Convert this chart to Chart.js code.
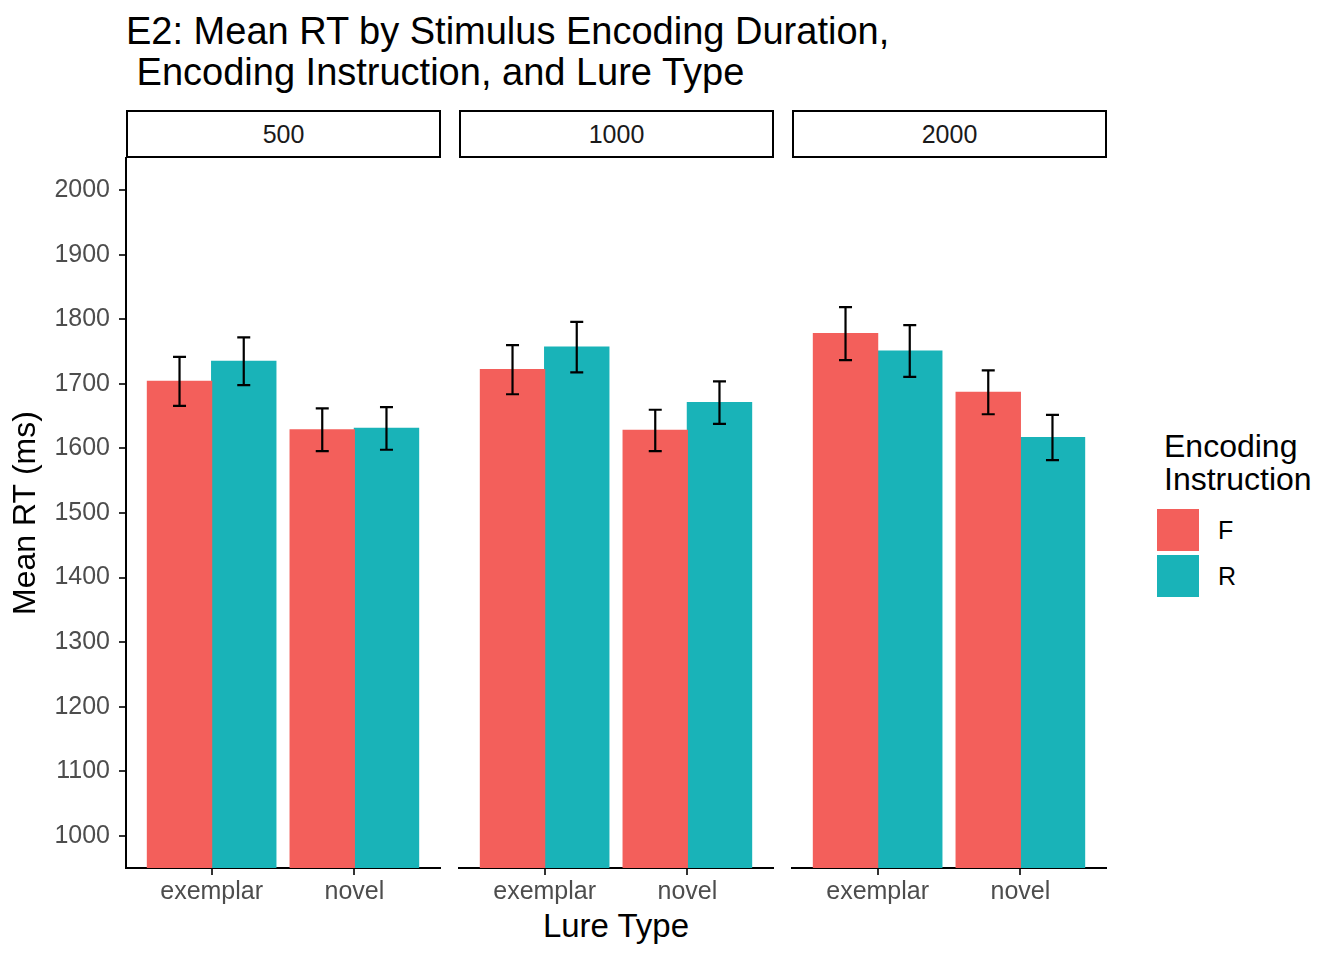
<!DOCTYPE html>
<html>
<head>
<meta charset="utf-8">
<script src="https://cdn.jsdelivr.net/npm/chart.js@4"></script>
<style>
    body { margin: 0; background: #fff; font-family: "Liberation Sans", Arial, sans-serif; }
    #page { position: relative; width: 1344px; height: 960px; overflow: hidden; }
    .abs { position: absolute; }
    .strip {
        position: absolute;
        top: 110px;
        height: 44px;
        width: 311px;
        border: 2px solid #000;
        font-size: 25px;
        color: #1a1a1a;
        text-align: center;
        line-height: 44px;
    }
    .key { position: absolute; left: 1157px; width: 42px; height: 42px; }
    .keylab { position: absolute; left: 1218px; font-size: 25px; line-height: 42px; color: #000; }
</style>
</head>
<body>
<div id="page">
    <div class="abs" id="title" style="left:126px; top:11px; font-size:38px; line-height:41px; color:#000; white-space:pre;"></div>
    <div class="abs" id="xtitle" style="left:0; width:1232px; top:907px; font-size:33px; line-height:38px; text-align:center; color:#000;">Lure Type</div>
    <div class="abs" id="legtitle" style="left:1164px; top:430px; font-size:32px; line-height:33px; color:#000;">Encoding<br>Instruction</div>
    <div class="key" id="keyF" style="top:509px;"></div>
    <div class="keylab" style="top:509px;">F</div>
    <div class="key" id="keyR" style="top:555px;"></div>
    <div class="keylab" style="top:555px;">R</div>
</div>
<script>
"use strict";

const titleText = "E2: Mean RT by Stimulus Encoding Duration,\n Encoding Instruction, and Lure Type";
const durations = ["500", "1000", "2000"];
const lureTypes = ["exemplar", "novel"];
const yTicks = [1000, 1100, 1200, 1300, 1400, 1500, 1600, 1700, 1800, 1900, 2000];

// mean RT per duration: [exemplar, novel]
const meansF = [[1704, 1629], [1722, 1628], [1778, 1687]];
const meansR = [[1735, 1631], [1757, 1671], [1751, 1617]];
// error bar half widths
const errF = [[38, 33], [38, 32], [41, 34]];
const errR = [[37, 33], [39, 33], [40, 35]];

const colorF = "#F35F5B";
const colorR = "#19B3B8";

document.getElementById("title").textContent = titleText;
document.getElementById("keyF").style.background = colorF;
document.getElementById("keyR").style.background = colorR;

const page = document.getElementById("page");

const panelLeft = [126, 459, 792];
const panelWidth = 314;
const panelTop = 158;
const panelBottom = 868;

// error bars drawn on top of the bars
const errorBars = {
    id: "errorBars",
    afterDatasetsDraw(chart) {
        const ctx = chart.ctx;
        const y = chart.scales.y;
        ctx.save();
        ctx.strokeStyle = "#000";
        ctx.lineWidth = 2.2;
        chart.data.datasets.forEach((ds, i) => {
            const meta = chart.getDatasetMeta(i);
            meta.data.forEach((bar, j) => {
                const v = ds.data[j].y;
                const e = ds.err[j];
                const top = y.getPixelForValue(v + e);
                const bot = y.getPixelForValue(v - e);
                const half = 6.5;
                ctx.beginPath();
                ctx.moveTo(bar.x, top);
                ctx.lineTo(bar.x, bot);
                ctx.moveTo(bar.x - half, top);
                ctx.lineTo(bar.x + half, top);
                ctx.moveTo(bar.x - half, bot);
                ctx.lineTo(bar.x + half, bot);
                ctx.stroke();
            });
        });
        ctx.restore();
    }
};

// keep tick labels from pushing the plot area around
function noPadding(scale) {
    scale.paddingTop = 0;
    scale.paddingBottom = 0;
    scale.paddingLeft = 0;
    scale.paddingRight = 0;
}

function makePanel(p) {
    const strip = document.createElement("div");
    strip.className = "strip";
    strip.style.left = panelLeft[p] + "px";
    strip.textContent = durations[p];
    page.appendChild(strip);

    const first = p === 0;
    const padTop = 8;
    const padSide = 6;
    const xAxisHeight = 46;
    const yAxisWidth = first ? panelLeft[0] : 0;

    const left = first ? 0 : panelLeft[p] - padSide;
    const width = (first ? panelLeft[0] : padSide) + panelWidth + padSide;
    const top = panelTop - padTop;
    const height = padTop + (panelBottom - panelTop) + xAxisHeight;

    const wrap = document.createElement("div");
    wrap.className = "abs";
    wrap.style.left = left + "px";
    wrap.style.top = top + "px";
    wrap.style.width = width + "px";
    wrap.style.height = height + "px";
    const canvas = document.createElement("canvas");
    wrap.appendChild(canvas);
    page.appendChild(wrap);

    const toPoints = (arr) => lureTypes.map((_, i) => ({x: i + 1, y: arr[p][i]}));

    new Chart(canvas.getContext("2d"), {
        type: "bar",
        data: {
            datasets: [
                {label: "F", data: toPoints(meansF), err: errF[p], backgroundColor: colorF,
                    categoryPercentage: 0.9, barPercentage: 1.0, inflateAmount: 0.6},
                {label: "R", data: toPoints(meansR), err: errR[p], backgroundColor: colorR,
                    categoryPercentage: 0.9, barPercentage: 1.0, inflateAmount: 0.6}
            ]
        },
        options: {
            responsive: true,
            maintainAspectRatio: false,
            animation: false,
            layout: {
                autoPadding: false,
                padding: {top: padTop, right: padSide, left: first ? 0 : padSide, bottom: 0}
            },
            plugins: {legend: {display: false}, tooltip: {enabled: false}},
            scales: {
                x: {
                    type: "linear",
                    min: 0.4,
                    max: 2.6,
                    offset: false,
                    afterBuildTicks: (scale) => {
                        scale.ticks = lureTypes.map((_, i) => ({value: i + 1}));
                    },
                    afterFit: (scale) => {
                        scale.height = xAxisHeight;
                        noPadding(scale);
                    },
                    ticks: {
                        callback: (v) => lureTypes[v - 1],
                        color: "#4d4d4d",
                        font: {family: "Liberation Sans", size: 25},
                        padding: 2,
                        maxRotation: 0,
                        autoSkip: false
                    },
                    grid: {display: true, drawOnChartArea: false, drawTicks: true, tickLength: 7,
                        color: "#333", lineWidth: 2, offset: false},
                    border: {display: true, color: "#000", width: 2}
                },
                y: {
                    display: first,
                    min: 950,
                    max: 2050,
                    afterBuildTicks: (scale) => {
                        scale.ticks = yTicks.map(v => ({value: v}));
                    },
                    afterFit: (scale) => {
                        scale.width = yAxisWidth;
                        noPadding(scale);
                    },
                    ticks: {
                        callback: (v) => String(v),
                        color: "#4d4d4d",
                        font: {family: "Liberation Sans", size: 25},
                        padding: 9
                    },
                    grid: {display: true, drawOnChartArea: false, drawTicks: true, tickLength: 7,
                        color: "#333", lineWidth: 2},
                    border: {display: true, color: "#000", width: 2},
                    title: {
                        display: true,
                        text: "Mean RT (ms)",
                        color: "#000",
                        font: {family: "Liberation Sans", size: 32},
                        padding: {top: 7, bottom: 0}
                    }
                }
            }
        },
        plugins: [errorBars]
    });
}

for (let p = 0; p < durations.length; p++) {
    makePanel(p);
}
</script>
</body>
</html>
